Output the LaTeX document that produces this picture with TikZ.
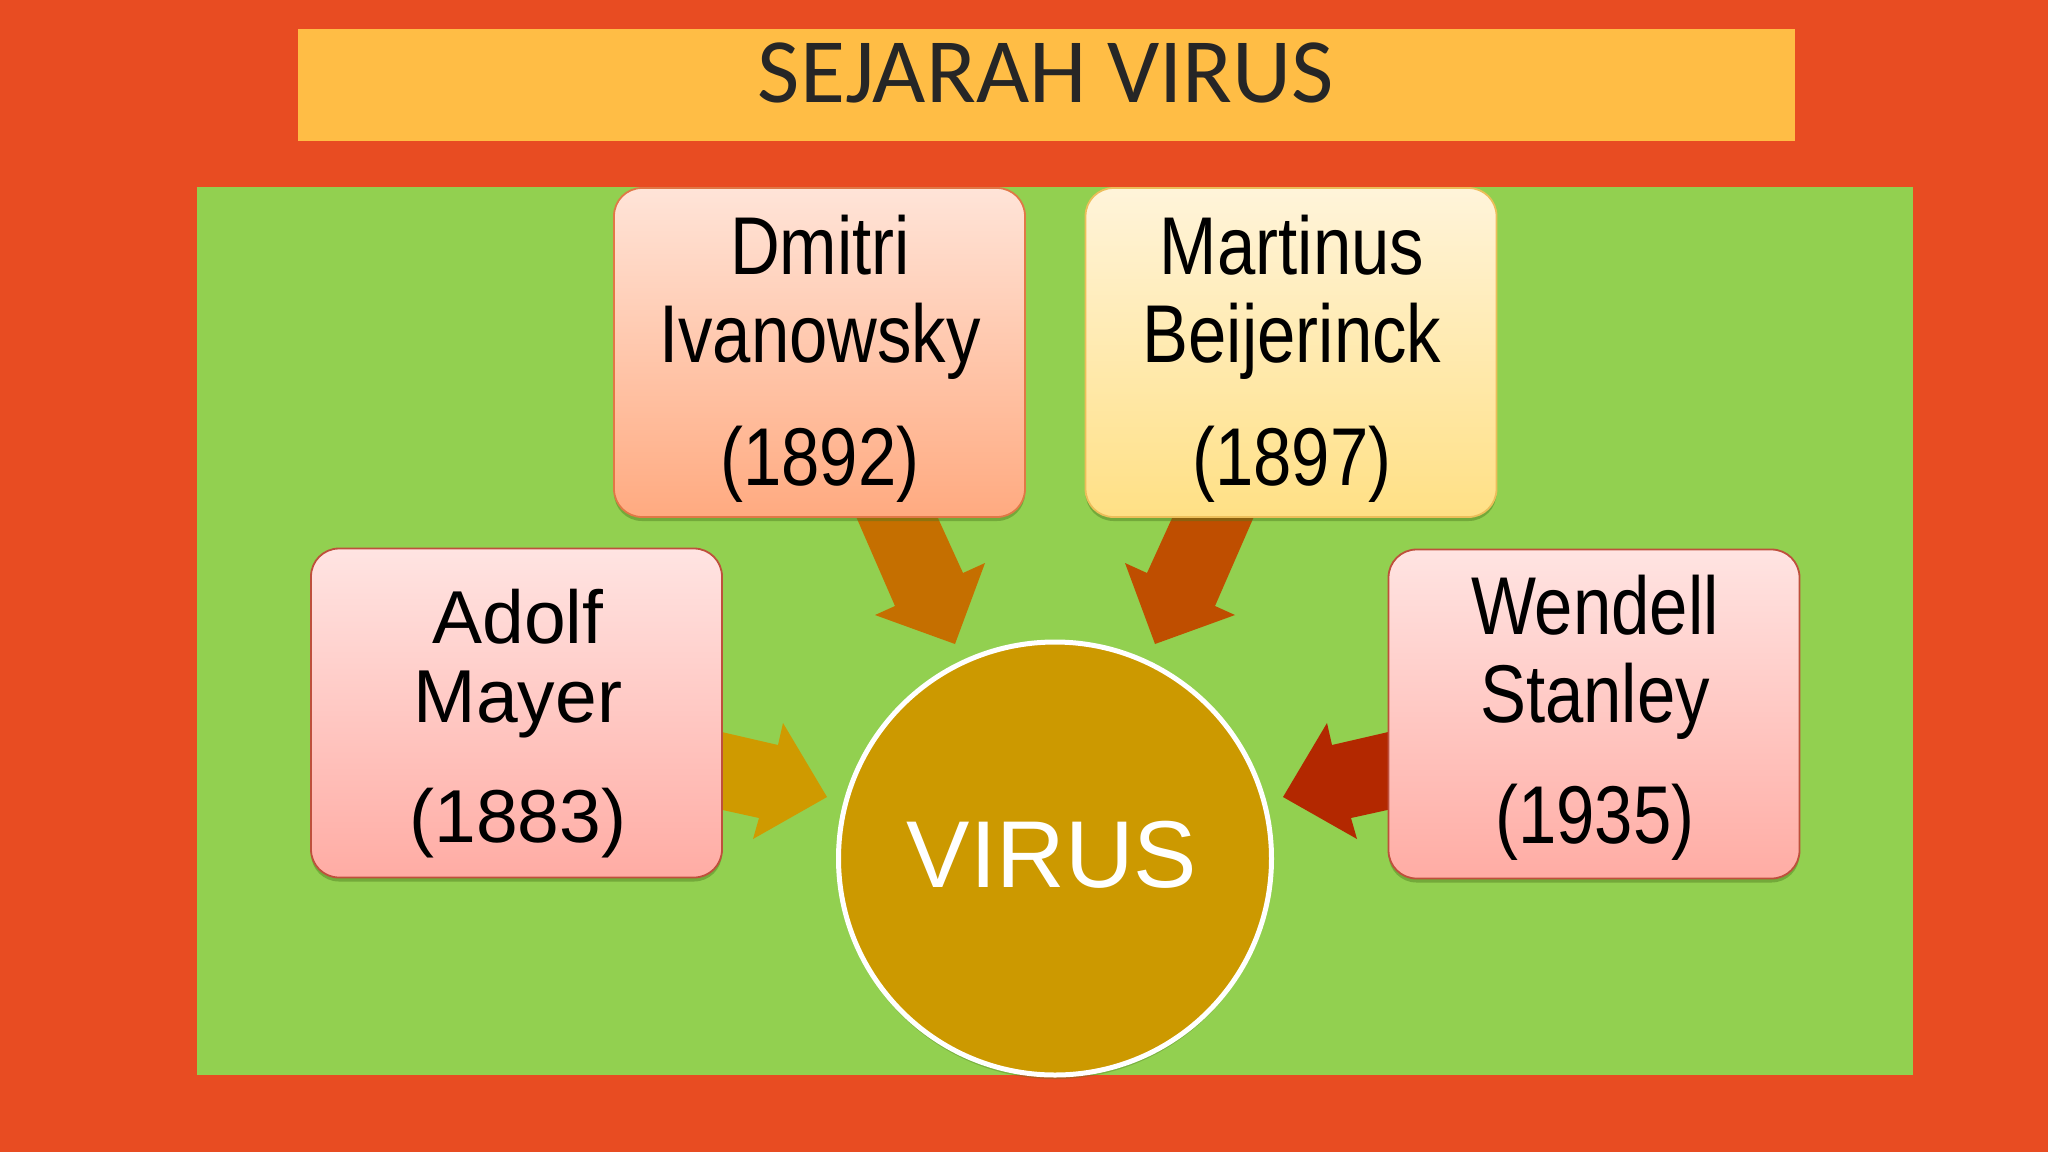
\documentclass[tikz,border=0pt]{standalone}
\usepackage{fontspec}
\setmainfont{Liberation Sans}
\newfontfamily\titlefont{Carlito}
\newfontfamily\condfont[FakeStretch=0.84]{Liberation Sans}
\newfontfamily\normfont{Liberation Sans}
\usetikzlibrary{shadows}
\definecolor{bgorange}{HTML}{E84C22}
\definecolor{banner}{HTML}{FFBD45}
\definecolor{bggreen}{HTML}{92D050}
\definecolor{titletext}{HTML}{262626}
\definecolor{circfill}{HTML}{CC9900}
\definecolor{arrA}{HTML}{CF9A00}
\definecolor{arrD}{HTML}{C56F00}
\definecolor{arrM}{HTML}{BF4E00}
\definecolor{arrW}{HTML}{B32800}
\definecolor{shadowgreen}{HTML}{4E7A20}
\begin{document}
\begin{tikzpicture}[x=1pt,y=-1pt,
  boxstyle/.style={rounded corners=28pt, line width=1.8pt, minimum width=411pt,
     minimum height=329pt, inner sep=0pt,
     drop shadow={shadow xshift=0pt, shadow yshift=-4pt, opacity=0.45, fill=shadowgreen}},
  condtext/.style={anchor=base, inner sep=0pt, font=\condfont\fontsize{82}{90}\selectfont},
  normtext/.style={anchor=base, inner sep=0pt, font=\normfont\fontsize{75}{82}\selectfont}]
\useasboundingbox (0,0) rectangle (2048,1152);
\fill[bgorange] (0,0) rectangle (2048,1152);
\fill[banner] (298,29) rectangle (1795,141);
\node[anchor=base, inner sep=0pt, text=titletext, font=\titlefont\fontsize{92}{100}\selectfont] (title) at (1046,102) {SEJARAH VIRUS};
\fill[bggreen] (197,187) rectangle (1913,1075);
% block arrows
\fill[arrD] (851,505) -- (932,505) -- (963,573) -- (985,563) -- (955,644) -- (875,615) -- (895,606) -- cycle;
\fill[arrM] (1259,505) -- (1178,505) -- (1147,573) -- (1125,563) -- (1155,644) -- (1235,615) -- (1215,606) -- cycle;
\fill[arrA] (700,727) -- (778,745) -- (783,723) -- (827,797) -- (753,839) -- (759,818) -- (700,805) -- cycle;
\fill[arrW] (1410,727) -- (1332,745) -- (1327,723) -- (1283,797) -- (1357,839) -- (1351,818) -- (1410,805) -- cycle;
% boxes
\node[boxstyle, draw={rgb,255:red,224;green,120;blue,70}, top color={rgb,255:red,255;green,228;blue,216}, bottom color={rgb,255:red,255;green,170;blue,128}] (dmitri) at (819.5,352.5) {};
\node[boxstyle, draw={rgb,255:red,236;green,190;blue,90}, top color={rgb,255:red,255;green,244;blue,218}, bottom color={rgb,255:red,255;green,224;blue,133}] (martinus) at (1291,352.5) {};
\node[boxstyle, draw={rgb,255:red,190;green,80;blue,60}, top color={rgb,255:red,255;green,228;blue,226}, bottom color={rgb,255:red,255;green,172;blue,164}] (adolf) at (516.5,713) {};
\node[boxstyle, draw={rgb,255:red,190;green,80;blue,60}, top color={rgb,255:red,255;green,228;blue,226}, bottom color={rgb,255:red,255;green,172;blue,164}] (wendell) at (1594,714) {};
% circle
\node[circle, minimum size=433pt, inner sep=0pt, fill=circfill, draw=white, line width=5pt,
  drop shadow={shadow xshift=0pt, shadow yshift=-4pt, opacity=0.35, fill=shadowgreen}] (virus) at (1055,858.5) {};
% texts
\node[condtext] (d1) at (820,274) {Dmitri};
\node[condtext] (d2) at (820,362) {Ivanowsky};
\node[condtext] (d3) at (820,485) {(1892)};
\node[condtext] (m1) at (1292,274) {Martinus};
\node[condtext] (m2) at (1292,362) {Beijerinck};
\node[condtext] (m3) at (1292,485) {(1897)};
\node[normtext] (a1) at (518,643) {Adolf};
\node[normtext] (a2) at (518,722) {Mayer};
\node[normtext] (a3) at (518,842) {(1883)};
\node[condtext] (w1) at (1595,634) {Wendell};
\node[condtext] (w2) at (1595,722) {Stanley};
\node[condtext] (w3) at (1595,843) {(1935)};
\node[anchor=base, inner sep=0pt, text=white, font=\normfont\fontsize{95}{100}\selectfont] (vt) at (1052,887) {VIRUS};
\end{tikzpicture}
\end{document}
